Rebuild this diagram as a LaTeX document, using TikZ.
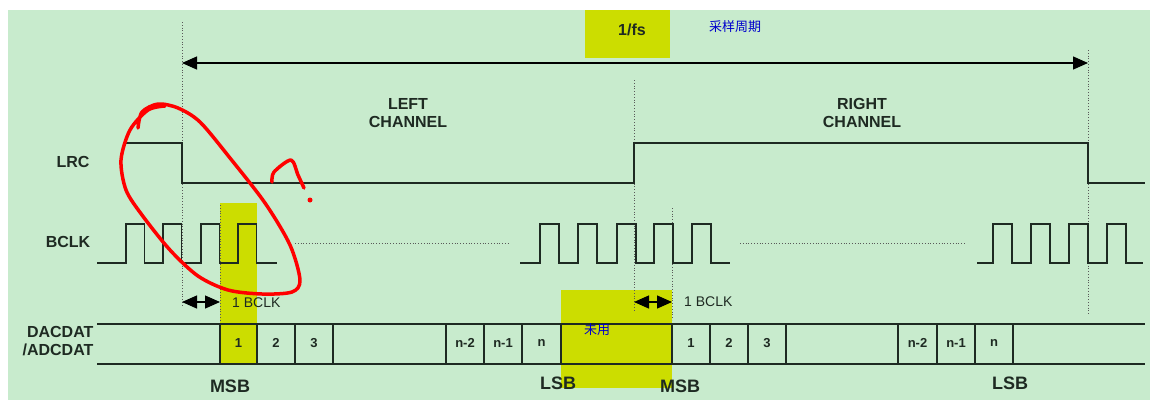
\documentclass[tikz,border=0pt]{standalone}
\usepackage{fontspec}
\setmainfont{Liberation Sans}
\newfontfamily\cjk{Noto Sans CJK SC}
\usetikzlibrary{arrows.meta}
\definecolor{bg}{HTML}{C8EBCD}
\definecolor{hl}{HTML}{CCDD00}
\definecolor{ln}{HTML}{1E2A22}
\begin{document}
\begin{tikzpicture}[x=1pt,y=-1pt,
  lbl/.style={font=\bfseries\fontsize{16}{18}\selectfont,text=ln,inner sep=0pt,align=center},
  sml/.style={font=\fontsize{14}{16}\selectfont,text=ln,inner sep=0pt,anchor=west},
  bit/.style={font=\bfseries\fontsize{13}{15}\selectfont,text=ln,inner sep=0pt},
  cn/.style={font=\cjk\fontsize{13}{15}\selectfont,text=blue!80!black,inner sep=0pt},
  wave/.style={draw=ln,line width=1.4pt},
  guide/.style={draw=gray!70!black,dotted,line width=0.8pt},
  dim/.style={draw=black,line width=1.3pt,{Triangle[length=15pt,width=13pt]}-{Triangle[length=15pt,width=13pt]}},
  redpen/.style={draw=red,line width=3.5pt,line cap=round,line join=round}]
\useasboundingbox (0,0) rectangle (1158,408);
\fill[white] (0,0) rectangle (1158,408);
\fill[bg] (8,10) rectangle (1150,400);
% highlights
\fill[hl] (585,10) rectangle (670,58);
\fill[hl] (220,203) rectangle (257,365);
\fill[hl] (561,290) rectangle (672,388);
% guides
\draw[guide] (182,22) -- (182,305);
\draw[guide] (634,80) -- (634,310);
\draw[guide] (1088,50) -- (1088,315);
\draw[guide] (220,205) -- (220,320);
\draw[guide] (672,208) -- (672,320);
\draw[guide] (295,243) -- (510,243);
\draw[guide] (740,243) -- (966,243);
% period arrow
\coordinate (pa) at (182,63); \coordinate (pb) at (1088,63);
\draw[dim] (pa) -- (pb);
\node[lbl] (fs) at (632,30) {1/fs};
\node[cn] (cy) at (735,27) {采样周期};
\node[lbl] (lc) at (408,113) {LEFT\\CHANNEL};
\node[lbl] (rc) at (862,113) {RIGHT\\CHANNEL};
% LRC
\node[lbl] (lrc) at (73,162) {LRC};
\draw[wave] (125,143) -- (182,143) -- (182,183) -- (634,183) -- (634,143) -- (1088,143) -- (1088,183) -- (1145,183);
% BCLK
\node[lbl] (bclk) at (68,242) {BCLK};
\draw[wave] (97,263) foreach \r in {126,163,201,238} { -- (\r,263) -- (\r,224) -- (\r+18.7,224) -- (\r+18.7,263)} -- (277,263);
\draw[wave] (520,263) foreach \r in {540,578,617,654,692} { -- (\r,263) -- (\r,224) -- (\r+19,224) -- (\r+19,263)} -- (730,263);
\draw[wave] (977,263) foreach \r in {993,1031,1069,1107} { -- (\r,263) -- (\r,224) -- (\r+19,224) -- (\r+19,263)} -- (1143,263);
% 1 BCLK
\coordinate (a1) at (182,302); \coordinate (a2) at (220,302);
\draw[dim] (a1) -- (a2);
\node[sml] (t1) at (232,303) {1 BCLK};
\coordinate (b1) at (634,302); \coordinate (b2) at (672,302);
\draw[dim] (b1) -- (b2);
\node[sml] (t2) at (684,302) {1 BCLK};
% data
\node[lbl,align=right] (dat) at (58,341) {DACDAT\\/ADCDAT};
\draw[wave] (97,324) -- (1145,324);
\draw[wave] (97,364) -- (1145,364);
\foreach \x in {257,295,333,446,484,522,561,672,710,748,786,898,937,975,1013} \draw[wave] (\x,324) -- (\x,364);
\draw[ln,line width=2.2pt] (220,324) rectangle (257,364);
\foreach \a/\b/\t in {220/257/1,257/295/2,295/333/3,446/484/n-2,484/522/n-1,522/561/n,672/710/1,710/748/2,748/786/3,898/937/n-2,937/975/n-1,975/1013/n}
  \node[bit] at ({(\a+\b)/2},343) {\t};
\node[cn] (wy) at (597,330) {未用};
\node[lbl,font=\bfseries\fontsize{18}{20}\selectfont] (m1) at (230,386) {MSB};
\node[lbl,font=\bfseries\fontsize{18}{20}\selectfont] (l1) at (558,383) {LSB};
\node[lbl,font=\bfseries\fontsize{18}{20}\selectfont] (m2) at (680,386) {MSB};
\node[lbl,font=\bfseries\fontsize{18}{20}\selectfont] (l2) at (1010,383) {LSB};
% red annotation
\draw[redpen] plot[smooth] coordinates {(138,128) (142,112) (158,104) (178,108) (200,122) (230,158) (265,203) (290,245) (300,280) (292,292) (262,294) (228,290) (198,276) (170,250) (142,215) (126,190) (121,160) (130,130) (148,110) (165,106)};
\draw[redpen] plot[smooth] coordinates {(272,182) (274,172) (291,160) (298,175) (304,188)};
\fill[red] (310,200) circle (2.5);
\end{tikzpicture}
\end{document}
